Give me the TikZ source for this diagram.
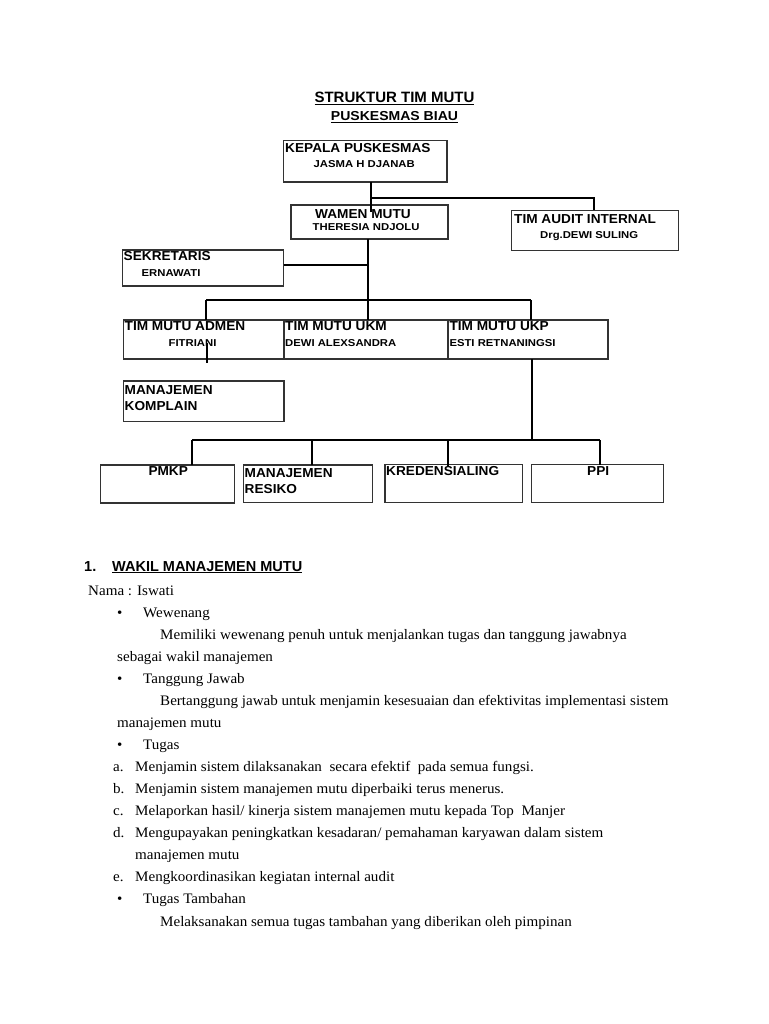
\documentclass[tikz,border=0pt]{standalone}
\usepackage{fontspec}
\setmainfont{Liberation Serif}[FakeStretch=1.04]
\newfontfamily\hv{Liberation Sans}
\newfontfamily\hvttl{Liberation Sans}[FakeStretch=1.05]
\newfontfamily\hvnm{Liberation Sans}[FakeStretch=1.13]
\newfontfamily\hvsub{Liberation Sans}[FakeStretch=1.08]
\begin{document}
\begin{tikzpicture}[x=1pt,y=-1pt,
  box/.style={draw=black!80, line width=1.2pt, inner sep=0pt, outer sep=0pt, anchor=north west},
  conn/.style={draw=black, line width=2pt},
  ttl/.style={anchor=base west, inner sep=0pt, font=\hvttl\bfseries\fontsize{13}{15}\selectfont},
  nm/.style={anchor=base west, inner sep=0pt, font=\hvnm\bfseries\fontsize{10}{12}\selectfont},
  body/.style={anchor=base west, inner sep=0pt, font=\fontsize{14.5}{16}\selectfont}]
\useasboundingbox (0,0) rectangle (768,1024);
% titles
\node[anchor=base, inner sep=0pt, font=\hv\bfseries\fontsize{15}{17}\selectfont] (title) at (394.5,102.5) {\underline{STRUKTUR TIM MUTU}};
\node[anchor=base, inner sep=0pt, font=\hvsub\bfseries\fontsize{13}{15}\selectfont] (sub) at (394.5,120.5) {\underline{PUSKESMAS BIAU}};
% boxes
\node[box, minimum width=163.5, minimum height=41.5] (kepala) at (283.5,140.5) {};
\node[box, minimum width=157, minimum height=34] (wamen) at (291,205) {};
\node[box, minimum width=167, minimum height=40] (audit) at (511.5,210.5) {};
\node[box, minimum width=161, minimum height=36] (sekr) at (122.5,250) {};
\node[box, minimum width=160.5, minimum height=39] (admen) at (123.5,320) {};
\node[box, minimum width=164, minimum height=39] (ukm) at (284,320) {};
\node[box, minimum width=160, minimum height=39] (ukp) at (448,320) {};
\node[box, minimum width=160.5, minimum height=40.5] (komp) at (123.5,381) {};
\node[box, minimum width=134, minimum height=38] (pmkp) at (100.5,465) {};
\node[box, minimum width=129, minimum height=37.5] (resiko) at (243.5,465) {};
\node[box, minimum width=137.5, minimum height=38] (kred) at (385,464.5) {};
\node[box, minimum width=132, minimum height=38] (ppi) at (531.5,464.5) {};
% box texts
\node[ttl] (kt) at (285,152.3) {KEPALA PUSKESMAS};
\node[nm] (kn) at (313.5,168) {JASMA H DJANAB};
\node[ttl] (wt) at (315,218.5) {WAMEN MUTU};
\node[nm] (wn) at (312.5,230.5) {THERESIA NDJOLU};
\node[ttl] (at) at (514,223.3) {TIM AUDIT INTERNAL};
\node[nm] (an) at (540,239) {Drg.DEWI SULING};
\node[ttl] (st) at (123.5,260.5) {SEKRETARIS};
\node[nm] (sn) at (141.5,276.5) {ERNAWATI};
\node[ttl] (adt) at (124.5,330.5) {TIM MUTU ADMEN};
\node[nm] (adn) at (168.5,346) {FITRIANI};
\node[ttl] (ukmt) at (285,330.5) {TIM MUTU UKM};
\node[nm] (ukmn) at (285,346) {DEWI ALEXSANDRA};
\node[ttl] (ukpt) at (449.3,330.5) {TIM MUTU UKP};
\node[nm] (ukpn) at (449.3,346) {ESTI RETNANINGSI};
\node[ttl] (kt1) at (124.5,394) {MANAJEMEN};
\node[ttl] (kt2) at (124.5,410.5) {KOMPLAIN};
\node[ttl] (pt) at (148.3,475) {PMKP};
\node[ttl] (rt1) at (244.5,477.5) {MANAJEMEN};
\node[ttl] (rt2) at (244.5,493.5) {RESIKO};
\node[ttl] (krt) at (386,475) {KREDENSIALING};
\node[ttl] (ppt) at (587,475) {PPI};
% connectors
\coordinate (j1) at (371,198);
\coordinate (j1e) at (371,212);
\draw[conn] (kepala.south -| j1) -- (j1e);
\draw[conn] (j1) -| (audit.north -| 594,0);
\coordinate (j2) at (368,300);
\draw[conn] (wamen.south -| j2) -- (j2);
\draw[conn] (sekr.east |- 0,265) -- (368,265);
\coordinate (ja) at (206,300);
\coordinate (jp) at (531,300);
\draw[conn] (ja) -- (jp);
\draw[conn] (ja) -- (admen.north -| ja);
\draw[conn] (j2) -- (ukm.north -| j2);
\draw[conn] (jp) -- (ukp.north -| jp);
\coordinate (a1) at (206.5,343);
\coordinate (a2) at (206.5,363);
\draw[conn] (a1) -- (a2);
\coordinate (u2) at (532,440);
\draw[conn] (ukp.south -| u2) -- (u2);
\coordinate (b1) at (192,440);
\coordinate (b2) at (312,440);
\coordinate (b3) at (448,440);
\coordinate (b4) at (600,440);
\draw[conn] (b1) -- (b4);
\draw[conn] (b1) -- (pmkp.north -| b1);
\draw[conn] (b2) -- (resiko.north -| b2);
\draw[conn] (b3) -- (448,467);
\draw[conn] (b4) -- (ppi.north -| b4);
% text section
\node[anchor=base west, inner sep=0pt, font=\hv\bfseries\fontsize{14.5}{16}\selectfont] (h1) at (84,571) {1.};
\node[anchor=base west, inner sep=0pt, font=\hv\bfseries\fontsize{14.5}{16}\selectfont] (h2) at (112,571) {\underline{WAKIL MANAJEMEN MUTU}};
\node[body] (b1t) at (88,595.5) {Nama : Iswati};
\node[body] (bu1) at (117,617) {\textbullet};
\node[body] (b2t) at (143,617) {Wewenang};
\node[body] (b3t) at (160,639) {Memiliki wewenang penuh untuk menjalankan tugas dan tanggung jawabnya};
\node[body] (b4t) at (117,661) {sebagai wakil manajemen};
\node[body] (bu2) at (117,683) {\textbullet};
\node[body] (b5t) at (143,683) {Tanggung Jawab};
\node[body] (b6t) at (160,705) {Bertanggung jawab untuk menjamin kesesuaian dan efektivitas implementasi sistem};
\node[body] (b7t) at (117,727) {manajemen mutu};
\node[body] (bu3) at (117,749.5) {\textbullet};
\node[body] (b8t) at (143,749.5) {Tugas};
\node[body] (la) at (113,771.5) {a.};
\node[body] (ta) at (135,771.5) {Menjamin sistem dilaksanakan \ secara efektif \ pada semua fungsi.};
\node[body] (lb) at (113,793.5) {b.};
\node[body] (tb) at (135,793.5) {Menjamin sistem manajemen mutu diperbaiki terus menerus.};
\node[body] (lc) at (113,815.5) {c.};
\node[body] (tc) at (135,815.5) {Melaporkan hasil/ kinerja sistem manajemen mutu kepada Top \ Manjer};
\node[body] (ld) at (113,837.5) {d.};
\node[body] (td) at (135,837.5) {Mengupayakan peningkatkan kesadaran/ pemahaman karyawan dalam sistem};
\node[body] (td2) at (135,859.5) {manajemen mutu};
\node[body] (le) at (113,881.5) {e.};
\node[body] (te) at (135,881.5) {Mengkoordinasikan kegiatan internal audit};
\node[body] (bu4) at (117,903.5) {\textbullet};
\node[body] (b9t) at (143,903.5) {Tugas Tambahan};
\node[body] (b10t) at (160,926) {Melaksanakan semua tugas tambahan yang diberikan oleh pimpinan};
\end{tikzpicture}
\end{document}
